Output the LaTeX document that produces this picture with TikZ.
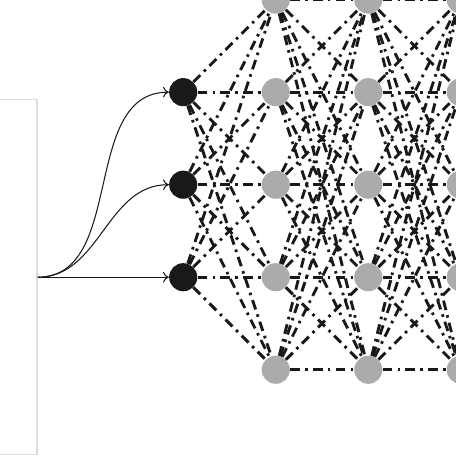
\documentclass[tikz,border=0pt]{standalone}
\usepackage{xcolor}
\usepackage{tikz}
\usetikzlibrary{arrows.meta}

\definecolor{unitblack}{HTML}{191919}
\definecolor{unitgray}{HTML}{ABABAB}
\definecolor{boxgray}{HTML}{DCDCDC}

\tikzset{
  inunit/.style={circle, fill=unitblack, minimum size=0.76cm, inner sep=0pt},
  hidunit/.style={circle, fill=unitgray, minimum size=0.76cm, inner sep=0pt},
  link/.style={line width=2.2pt, color=unitblack, dash pattern=on 7.5pt off 4pt on 2pt off 4pt},
  feed/.style={-{To[length=4.5pt,width=8pt]}, line width=0.8pt, color=unitblack}
}

\begin{document}
\begin{tikzpicture}
\clip (0,0) rectangle (12.32,12.32);

% source box
\node[draw=boxgray, line width=0.8pt, minimum width=2cm, minimum height=9.58cm, inner sep=0pt] (src) at (0,4.83) {};

% input units
\node[inunit] (x1) at (4.95,9.83) {};
\node[inunit] (x2) at (4.95,7.33) {};
\node[inunit] (x3) at (4.95,4.83) {};

% hidden units
\foreach \i/\y in {1/12.33,2/9.83,3/7.33,4/4.83,5/2.33} {
  \node[hidunit] (a\i) at (7.45,\y) {};
  \node[hidunit] (b\i) at (9.95,\y) {};
  \node[hidunit] (c\i) at (12.45,\y) {};
}

% links
\foreach \i in {1,2,3}
  \foreach \j in {1,...,5}
    \draw[link] (x\i) -- (a\j);
\foreach \i in {1,...,5}
  \foreach \j in {1,...,5} {
    \draw[link] (a\i) -- (b\j);
    \draw[link] (b\i) -- (c\j);
  }

% feeding arrows
\draw[feed] (src.east |- x3) to[out=0,in=180] (x1);
\draw[feed] (src.east |- x3) to[out=0,in=180] (x2);
\draw[feed] (src.east |- x3) -- (x3);

\end{tikzpicture}
\end{document}
